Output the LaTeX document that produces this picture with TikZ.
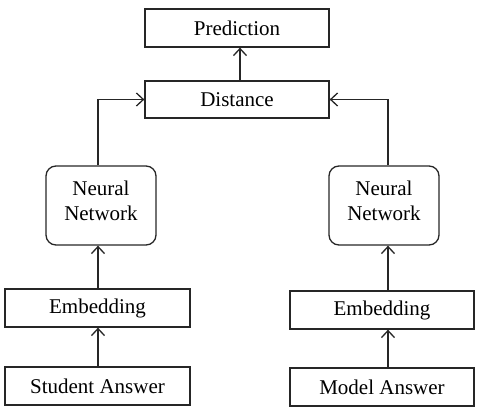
\documentclass[tikz,border=0pt]{standalone}
\usepackage{fontspec}
\setmainfont{Liberation Serif}
\usetikzlibrary{arrows.meta}
\newcommand{\nntext}{\begin{tabular}[b]{@{}c@{}}Neural\\[-1pt]Network\end{tabular}\rule[-13pt]{0pt}{13pt}}
\begin{document}
\begin{tikzpicture}[x=1pt,y=-1pt,
  box/.style={draw=black!85, line width=1.3pt, inner sep=0pt, font=\fontsize{21}{26}\selectfont, text=black},
  nnbox/.style={box, rounded corners=10pt, minimum width=110pt, minimum height=79pt},
  arr/.style={draw=black!85, line width=1.3pt, -{Straight Barb[length=7pt,width=13pt,line width=1.3pt]}}]
\useasboundingbox (0,0) rectangle (480,412);
\node[box, minimum width=184pt, minimum height=38pt] (pred) at (237,28) {Prediction};
\node[box, minimum width=184pt, minimum height=37pt] (dist) at (237,99.5) {Distance};
\node[nnbox] (nnL) at (101,205.5) {\nntext};
\node[nnbox] (nnR) at (384,205.5) {\nntext};
\node[box, minimum width=185pt, minimum height=38pt] (embL) at (97.5,308) {Embedding};
\node[box, minimum width=185pt, minimum height=38pt] (saL) at (97.5,386) {Student Answer};
\node[box, minimum width=184pt, minimum height=38pt] (embR) at (382,310) {Embedding};
\node[box, minimum width=184pt, minimum height=38pt] (maR) at (382,387) {Model Answer};
\coordinate (lx) at (98,0);
\coordinate (rx) at (388,0);
\draw[arr] (dist.north -| 240,0) -- (pred.south -| 240,0);
\draw[arr] (nnL.north -| lx) |- (dist.west);
\draw[arr] (nnR.north -| rx) |- (dist.east);
\draw[arr] (saL.north -| lx) -- (embL.south -| lx);
\draw[arr] (embL.north -| lx) -- (nnL.south -| lx);
\draw[arr] (maR.north -| rx) -- (embR.south -| rx);
\draw[arr] (embR.north -| rx) -- (nnR.south -| rx);
\end{tikzpicture}
\end{document}
